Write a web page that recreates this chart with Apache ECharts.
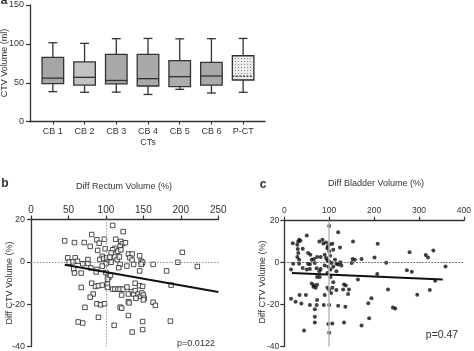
<!DOCTYPE html>
<html><head><meta charset="utf-8">
<script src="https://cdn.jsdelivr.net/npm/echarts@6/dist/echarts.min.js"></script>
<style>html,body{margin:0;padding:0;background:#fff}#c{width:474px;height:351px}</style>
</head><body><div id="c"></div>
<script>
// ---------- Panel a: CTV volume box plots ----------
const categories = ['CB 1','CB 2','CB 3','CB 4','CB 5','CB 6','P-CT'];
const whiskerMin = [38.6, 37.8, 38, 35, 41.6, 36.9, 37.8];
const q1 = [49, 47, 48.5, 45.9, 45, 47, 53.6];
const median = [56, 57, 53, 55.3, 57.9, 58.7, 58.7];
const q3 = [82.8, 77, 86.6, 86.6, 78.4, 76.3, 84.8];
const whiskerMax = [101.5, 100.7, 106.7, 107, 106.5, 106.7, 107];

// ---------- Panel b: rectum ----------
const rectumPoints = [
[45,9.9],[58,9.1],[71,9.1],[81,12.9],[79,7.3],[88,10.4],[91,8.8],[89,5.4],[98,10.7],[99,6.2],
[109,17.2],[113,10.7],[123,14.3],[120,9.6],[122,8.5],[126,9.0],[119,7.3],[112,6.4],[109,5.7],[107,4.2],
[116,5.0],[120,5.7],[49,1.9],[59,1.9],[51,-0.2],[56,0],[62,0.3],[76,1.1],[76,-0.8],[69,-0.9],
[95,2.6],[92,1.1],[97,1.6],[101,1.9],[105,2.2],[112,2.3],[115,1.1],[118,2.3],[107,-0.2],[100,-0.9],
[95,-2.0],[80,-2.9],[88,-3.6],[87,-4.8],[130,3.7],[135,3.7],[145,2.9],[132,1.9],[135,0.8],[137,-1.2],
[128,-2.0],[119,-1.2],[117,-2.8],[147,0.3],[148,-0.8],[149,-0.2],[147,-1.2],[163,-1.2],[196,-0.2],[202,4.5],
[222,-2.2],[181,-4.3],[57,-3.3],[58,-5.3],[67,-5.3],[100,-5.1],[103,-6.7],[104,-7.4],[102,-8.2],[106,-6.4],
[145,-4.3],[67,-12.1],[81,-10.1],[86,-11.6],[90,-11.3],[83,-15.2],[79,-16.7],[95,-11.0],[102,-10.5],[102,-12.1],
[109,-12.9],[112,-12.9],[116,-12.9],[119,-12.9],[123,-12.9],[128,-11.9],[139,-10.1],[145,-11.3],[149,-11.6],[134,-14.1],
[137,-15.2],[139,-13.6],[143,-15.2],[146,-16.3],[148,-14.7],[150,-15.7],[151,-17.2],[150,-18.0],[140,-17.2],[130,-15.2],
[121,-15.7],[187,-11.0],[163,-19.1],[166,-20.6],[88,-19.8],[93,-20.3],[98,-19.8],[72,-21.5],[90,-26.2],[119,-21.4],
[121,-21.9],[130,-18.8],[131,-19.4],[130,-25.4],[63,-28.4],[69,-28.9],[111,-30],[149,-28.2],[149,-32],[135,-33.2],
[186,-28]
];
const rectumFit = [[45,-1.4],[250,-14.3]];

// ---------- Panel c: bladder ----------
const bladderPoints = [
[100,17.5],[120,14.5],[50,12.9],[33,10.9],[36,10.4],[31,10.1],[19,9.3],[29,8.5],[41,6.6],[30,6.5],
[31,4.6],[29,2.7],[33,1.4],[53,4.6],[58,3.8],[85,10.9],[93,9.6],[78,10.1],[96,6.9],[100,5.4],
[107,9.0],[124,7.2],[153,10.1],[208,9.0],[97,7.7],[109,6.1],[87,9.1],[101,8.8],
[15,-3.3],[20,-0.5],[33,-0.5],[53,-0.5],[57,-0.8],[61,1.4],[66,1.7],[73,2.7],[81,2.7],[68,-0.2],
[41,-2.5],[50,-3.3],[57,-3.0],[72,-2.7],[81,-3.0],[78,-4.1],[73,-6.8],[79,-6.8],[90,3.8],[93,2.2],
[96,1.1],[102,3.3],[100,0.6],[105,-0.2],[113,1.4],[116,-0.5],[120,-0.9],[125,0.2],[127,-1.4],[90,-1.4],
[98,-2.0],[103,-3.3],[109,-2.0],[96,-4.9],[103,-6.8],[116,-4.1],[150,-0.2],[152,1.7],[157,1.4],[172,1.7],
[201,2.4],[227,0],[207,-5.4],[164,-8.0],
[279,4.9],[315,3.6],[320,2.5],[332,5.8],[359,-1.9],[273,-3.6],[284,-4.4],[336,-8.7],[231,-12.8],[296,-15.3],
[324,-13],[242,-21.4],[247,-21.9],
[15,-17.2],[25,-18.6],[38,-19.5],[34,-15.4],[48,-15.4],[57,-20.2],[68,-22.2],[72,-20.2],[73,-17.8],[88,-20.2],
[100,-20.2],[120,-20.6],[136,-21.1],[68,-25.8],[68,-28.5],[44,-32.4],[98,-29.3],[107,-29],[100,-33.5],[133,-28.5],
[172,-30],[189,-26.5],[187,-19.4],[194,-17],
[61,-10],[65,-11.5],[70,-12],[73,-10.5],[66,-10.8],[96,-12],[100,-13],[107,-12],[116,-13],[131,-12.8],
[137,-10.9],[144,-12.8],[142,-15],[133,-10.4],[109,-9.3],[90,-15.4],[104,-14.5]
];
const bladderFit = [[17,-4.9],[353,-8.1]];
const refX = 100, refY = 0;

// ---------- styles ----------
const FONT = 'Liberation Sans, Arial, Helvetica, sans-serif';
const TXT = '#333';
const AX = '#333';

const pc = document.createElement('canvas');
pc.width = 3; pc.height = 3;
const pctx = pc.getContext('2d');
pctx.fillStyle = '#ececec'; pctx.fillRect(0,0,3,3);
pctx.fillStyle = '#8c8c8c'; pctx.fillRect(1,1,1,1);
const boxFill = ['#a6a6a6','#c3c3c3','#a9a9a9','#a9a9a9','#adadad','#a9a9a9',{image: pc, repeat: 'repeat'}];

const boxData = categories.map((c, i) => [i, whiskerMin[i], q1[i], median[i], q3[i], whiskerMax[i]]);

function renderBox(params, api) {
  const i = api.value(0);
  const xc = api.coord([i, 0])[0];
  const band = api.size([1, 0])[0];
  const hw = band * 0.34, cw = band * 0.14;
  const y = k => api.coord([i, api.value(k)])[1];
  const yMin = y(1), yQ1 = y(2), yMed = y(3), yQ3 = y(4), yMax = y(5);
  const st = {stroke: AX, lineWidth: 1.3};
  return {type: 'group', children: [
    {type:'line', shape:{x1:xc,y1:yMax,x2:xc,y2:yQ3}, style:st},
    {type:'line', shape:{x1:xc,y1:yQ1,x2:xc,y2:yMin}, style:st},
    {type:'line', shape:{x1:xc-cw,y1:yMax,x2:xc+cw,y2:yMax}, style:st},
    {type:'line', shape:{x1:xc-cw,y1:yMin,x2:xc+cw,y2:yMin}, style:st},
    {type:'rect', shape:{x:xc-hw,y:yQ3,width:2*hw,height:yQ1-yQ3}, style:{fill: boxFill[i], stroke: AX, lineWidth: 1.3}},
    {type:'line', shape:{x1:xc-hw,y1:yMed,x2:xc+hw,y2:yMed}, style:{stroke: AX, lineWidth: 1.3, lineDash: i === 6 ? [2,1.5] : null}}
  ]};
}

const axLine = {show: true, onZero: false, lineStyle: {color: AX, width: 1.3}};
const axTick = {show: true, length: 4, lineStyle: {color: AX, width: 1.2}};
const lbl = (size, margin) => ({color: TXT, fontSize: size, fontFamily: FONT, margin: margin});

function txt(text, x, y, size, opts) {
  return Object.assign({type: 'text', x: x, y: y, silent: true,
    style: {text: text, fill: TXT, font: (opts && opts.bold ? 'bold ' : '') + size + 'px ' + FONT,
      align: 'center', verticalAlign: 'middle', textAlign: 'center', textVerticalAlign: 'middle'}},
    opts && opts.rot ? {rotation: Math.PI / 2} : {});
}

const chart = echarts.init(document.getElementById('c'), null, {renderer: 'canvas'});
chart.setOption({
  animation: false,
  backgroundColor: '#fff',
  grid: [
    {left: 37, right: 215, top: 5, bottom: 229.3},
    {left: 30, right: 209, top: 5, bottom: 229.3},
    {left: 31, right: 255.7, top: 219.5, bottom: 4.3},
    {left: 284.3, right: 5.7, top: 220.7, bottom: 3.3}
  ],
  xAxis: [
    {gridIndex: 0, type: 'category', data: categories, boundaryGap: true,
      axisLine: {show: false}, axisTick: {show: true, alignWithLabel: true, length: 3, lineStyle: {color: AX}},
      axisLabel: lbl(9, 5), splitLine: {show: false}},
    {gridIndex: 1, type: 'value', min: 0, max: 1, axisLine: axLine, axisTick: {show: false},
      axisLabel: {show: false}, splitLine: {show: false}},
    {gridIndex: 2, type: 'value', position: 'top', min: 0, max: 250, interval: 50,
      axisLine: axLine, axisTick: axTick, axisLabel: lbl(10, 4), splitLine: {show: false}},
    {gridIndex: 3, type: 'value', position: 'top', min: 0, max: 400, interval: 100,
      axisLine: axLine, axisTick: axTick, axisLabel: lbl(8.5, 6), splitLine: {show: false}}
  ],
  yAxis: [
    {gridIndex: 0, type: 'value', min: 0, max: 150, show: false},
    {gridIndex: 1, type: 'value', min: 0, max: 150, interval: 50,
      axisLine: axLine, axisTick: axTick, axisLabel: lbl(9, 6), splitLine: {show: false}},
    {gridIndex: 2, type: 'value', min: -40, max: 20, interval: 20,
      axisLine: axLine, axisTick: axTick, axisLabel: lbl(9, 6), splitLine: {show: false}},
    {gridIndex: 3, type: 'value', min: -40, max: 20, interval: 20,
      axisLine: axLine, axisTick: axTick, axisLabel: lbl(8.5, 5), splitLine: {show: false}}
  ],
  series: [
    {type: 'custom', xAxisIndex: 0, yAxisIndex: 0, data: boxData, renderItem: renderBox,
      encode: {x: 0, y: [1,2,3,4,5]}, silent: true},
    {type: 'scatter', xAxisIndex: 2, yAxisIndex: 2, data: rectumPoints, symbol: 'rect', symbolSize: 4.5,
      itemStyle: {color: '#fff', borderColor: '#222', borderWidth: 1}, silent: true, z: 3,
      markLine: {symbol: 'none', silent: true, label: {show: false}, animation: false,
        data: [
          {xAxis: refX, lineStyle: {color: '#9a9a9a', type: [1.5, 1.5], width: 1}},
          {yAxis: refY, lineStyle: {color: '#8a8a8a', type: [1.5, 1.5], width: 1}}
        ]}},
    {type: 'line', xAxisIndex: 2, yAxisIndex: 2, data: rectumFit, symbol: 'none',
      lineStyle: {color: '#111', width: 2}, silent: true, z: 4},
    {type: 'scatter', xAxisIndex: 3, yAxisIndex: 3, data: bladderPoints, symbol: 'circle', symbolSize: 4,
      itemStyle: {color: '#111'}, silent: true, z: 3,
      markLine: {symbol: 'none', silent: true, label: {show: false}, animation: false,
        data: [
          {xAxis: refX, lineStyle: {color: '#b8b8b8', type: 'solid', width: 1.5}},
          {yAxis: refY, lineStyle: {color: '#555', type: [1.5, 1.5], width: 1}}
        ]}},
    {type: 'line', xAxisIndex: 3, yAxisIndex: 3, data: bladderFit, symbol: 'none',
      lineStyle: {color: '#111', width: 2}, silent: true, z: 4}
  ],
  graphic: [
    txt('a', 4, 1, 12, {bold: true}),
    txt('CTV Volume (ml)', 5, 63, 9, {rot: true}),
    txt('CTs', 148, 143, 9),
    txt('b', 5, 184, 12, {bold: true}),
    txt('Diff Rectum Volume (%)', 124, 186.5, 9),
    txt('Diff CTV Volume (%)', 10, 283, 9, {rot: true}),
    txt('p=0.0122', 196, 344, 9),
    txt('c', 263, 185, 12, {bold: true}),
    txt('Diff Bladder Volume (%)', 376, 184, 9),
    txt('Diff CTV Volume (%)', 263, 282, 9, {rot: true}),
    txt('p=0.47', 442, 335, 10.5)
  ]
});
</script></body></html>
